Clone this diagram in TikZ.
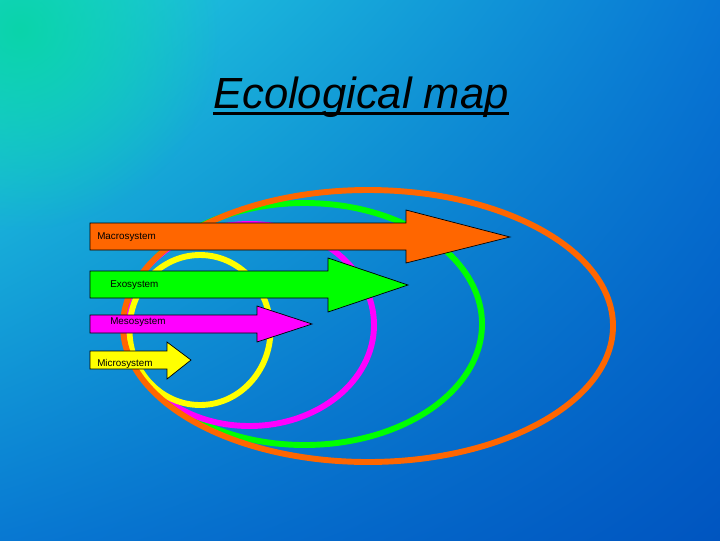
\documentclass[tikz,border=0pt]{standalone}
\usepackage{fontspec}
\setmainfont{Liberation Sans}
\usetikzlibrary{shadings,fadings}
\definecolor{naranja}{RGB}{255,102,0}
\definecolor{verde}{RGB}{0,255,0}
\definecolor{rosa}{RGB}{255,0,255}
\definecolor{amarillo}{RGB}{255,255,0}
\definecolor{fondoA}{RGB}{35,212,222}
\definecolor{fondoB}{RGB}{8,118,212}
\definecolor{fondoC}{RGB}{8,120,210}
\definecolor{fondoD}{RGB}{0,85,192}
\definecolor{brillo}{RGB}{10,212,170}
\tikzfading[name=brillofade, inner color=transparent!0, outer color=transparent!100]
\tikzset{
  anillo/.style={line width=4.2pt},
  flecha/.style={draw=black, line width=0.5pt, line join=miter},
  etiqueta/.style={anchor=west, inner sep=0pt, font=\fontsize{7}{8}\selectfont}
}

\begin{document}
\begin{tikzpicture}[x=0.025cm,y=-0.025cm]
\useasboundingbox (0,0) rectangle (720,540);
% Fondo
\shade[upper left=fondoA, upper right=fondoB, lower left=fondoC, lower right=fondoD]
  (0,0) rectangle (720,540);
\begin{scope}
\clip (0,0) rectangle (720,540);
\fill[brillo, path fading=brillofade] (20,30) circle (200);
\end{scope}
% Titulo
\node[anchor=base, inner sep=0pt, font=\fontsize{31}{36}\selectfont\itshape] (titulo) at (361,108) {Ecological map};
\draw[line width=2.2pt] ([yshift=-3.6pt]titulo.base west) -- ([yshift=-3.6pt]titulo.base east);
% Elipses
\draw[anillo, verde] (304.5,324) ellipse [x radius=177.5, y radius=121];
\draw[anillo, rosa] (249.5,325) ellipse [x radius=124.5, y radius=101];
\draw[anillo, amarillo] (200,330) ellipse [x radius=70.5, y radius=75];
\draw[anillo, naranja] (368,326) ellipse [x radius=245, y radius=136];
% Macrosistema
\draw[flecha, fill=naranja] (90,223) -- (406,223) -- (406,210) -- (510,237) -- (406,263) -- (406,250) -- (90,250) -- cycle;
\node[etiqueta] (macro) at (97,237) {Macrosystem};
% Exosistema
\draw[flecha, fill=verde] (90,271) -- (328,271) -- (328,258) -- (408,285) -- (328,312) -- (328,298) -- (90,298) -- cycle;
\node[etiqueta] (exo) at (110,285) {Exosystem};
% Mesosistema
\draw[flecha, fill=rosa] (90,315) -- (257,315) -- (257,306) -- (312,324) -- (257,342) -- (257,333) -- (90,333) -- cycle;
\node[etiqueta] (meso) at (110,322) {Mesosystem};
% Microsistema
\draw[flecha, fill=amarillo] (90,351) -- (167,351) -- (167,342) -- (191,360) -- (167,379) -- (167,369) -- (90,369) -- cycle;
\node[etiqueta] (micro) at (97,364) {Microsystem};
\end{tikzpicture}
\end{document}
